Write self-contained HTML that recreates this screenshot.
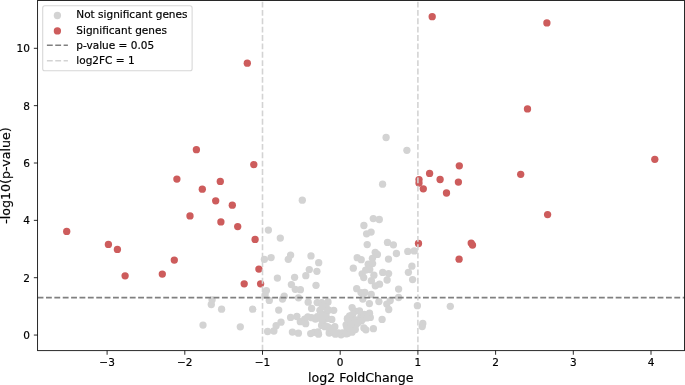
<!DOCTYPE html>
<html><head><meta charset="utf-8"><title>Volcano plot</title>
<style>
html,body{margin:0;padding:0;background:#fff;}
svg{display:block;}
text{font-family:"DejaVu Sans","Liberation Sans",sans-serif;fill:#000;stroke:#000;stroke-width:0.18px;}
</style></head><body>
<svg width="685" height="385" viewBox="0 0 685 385">
<rect width="685" height="385" fill="#fff"/>
<defs><clipPath id="ax"><rect x="37.6" y="0.5" width="646.9" height="350.15"/></clipPath></defs>
<g clip-path="url(#ax)">
<g fill="#d3d3d3">
<circle cx="302.3" cy="200.20" r="3.66"/>
<circle cx="386.1" cy="137.50" r="3.66"/>
<circle cx="406.9" cy="150.30" r="3.66"/>
<circle cx="382.6" cy="184.20" r="3.66"/>
<circle cx="268.4" cy="230.10" r="3.66"/>
<circle cx="280.3" cy="238.10" r="3.66"/>
<circle cx="264.4" cy="259.30" r="3.66"/>
<circle cx="271.1" cy="257.60" r="3.66"/>
<circle cx="290.6" cy="255.10" r="3.66"/>
<circle cx="288.3" cy="259.30" r="3.66"/>
<circle cx="311.0" cy="255.90" r="3.66"/>
<circle cx="318.7" cy="262.70" r="3.66"/>
<circle cx="309.3" cy="269.60" r="3.66"/>
<circle cx="316.9" cy="271.30" r="3.66"/>
<circle cx="305.8" cy="275.70" r="3.66"/>
<circle cx="294.6" cy="277.30" r="3.66"/>
<circle cx="277.4" cy="278.10" r="3.66"/>
<circle cx="291.4" cy="284.60" r="3.66"/>
<circle cx="316.0" cy="285.30" r="3.66"/>
<circle cx="373.3" cy="218.60" r="3.66"/>
<circle cx="379.3" cy="219.50" r="3.66"/>
<circle cx="363.9" cy="225.50" r="3.66"/>
<circle cx="371.1" cy="232.10" r="3.66"/>
<circle cx="366.6" cy="233.80" r="3.66"/>
<circle cx="367.2" cy="244.60" r="3.66"/>
<circle cx="387.5" cy="242.40" r="3.66"/>
<circle cx="393.4" cy="244.80" r="3.66"/>
<circle cx="396.4" cy="253.50" r="3.66"/>
<circle cx="407.8" cy="251.40" r="3.66"/>
<circle cx="414.2" cy="250.90" r="3.66"/>
<circle cx="388.5" cy="259.10" r="3.66"/>
<circle cx="375.2" cy="252.30" r="3.66"/>
<circle cx="377.4" cy="254.40" r="3.66"/>
<circle cx="372.4" cy="258.30" r="3.66"/>
<circle cx="357.2" cy="257.70" r="3.66"/>
<circle cx="361.2" cy="259.70" r="3.66"/>
<circle cx="368.2" cy="264.20" r="3.66"/>
<circle cx="372.6" cy="263.60" r="3.66"/>
<circle cx="353.3" cy="268.20" r="3.66"/>
<circle cx="411.9" cy="266.20" r="3.66"/>
<circle cx="408.4" cy="272.30" r="3.66"/>
<circle cx="412.6" cy="279.60" r="3.66"/>
<circle cx="382.7" cy="272.40" r="3.66"/>
<circle cx="388.6" cy="273.60" r="3.66"/>
<circle cx="387.1" cy="280.00" r="3.66"/>
<circle cx="365.7" cy="270.10" r="3.66"/>
<circle cx="369.7" cy="269.50" r="3.66"/>
<circle cx="362.1" cy="273.80" r="3.66"/>
<circle cx="363.7" cy="277.60" r="3.66"/>
<circle cx="373.9" cy="275.20" r="3.66"/>
<circle cx="371.4" cy="280.70" r="3.66"/>
<circle cx="379.5" cy="284.20" r="3.66"/>
<circle cx="375.3" cy="285.80" r="3.66"/>
<circle cx="398.6" cy="289.10" r="3.66"/>
<circle cx="398.6" cy="297.50" r="3.66"/>
<circle cx="356.7" cy="288.70" r="3.66"/>
<circle cx="361.0" cy="292.60" r="3.66"/>
<circle cx="364.8" cy="292.40" r="3.66"/>
<circle cx="371.2" cy="294.30" r="3.66"/>
<circle cx="362.8" cy="299.10" r="3.66"/>
<circle cx="378.9" cy="301.60" r="3.66"/>
<circle cx="369.4" cy="303.60" r="3.66"/>
<circle cx="390.2" cy="300.60" r="3.66"/>
<circle cx="386.8" cy="304.10" r="3.66"/>
<circle cx="388.7" cy="309.50" r="3.66"/>
<circle cx="417.4" cy="305.70" r="3.66"/>
<circle cx="352.1" cy="307.60" r="3.66"/>
<circle cx="359.5" cy="311.00" r="3.66"/>
<circle cx="369.5" cy="313.20" r="3.66"/>
<circle cx="422.8" cy="323.40" r="3.66"/>
<circle cx="422.2" cy="326.50" r="3.66"/>
<circle cx="450.3" cy="306.30" r="3.66"/>
<circle cx="382.1" cy="319.40" r="3.66"/>
<circle cx="373.4" cy="328.70" r="3.66"/>
<circle cx="365.9" cy="329.80" r="3.66"/>
<circle cx="363.9" cy="328.00" r="3.66"/>
<circle cx="370.3" cy="317.40" r="3.66"/>
<circle cx="349.6" cy="315.80" r="3.66"/>
<circle cx="347.5" cy="319.10" r="3.66"/>
<circle cx="353.8" cy="320.60" r="3.66"/>
<circle cx="347.5" cy="324.10" r="3.66"/>
<circle cx="355.5" cy="325.20" r="3.66"/>
<circle cx="363.8" cy="317.90" r="3.66"/>
<circle cx="360.9" cy="316.60" r="3.66"/>
<circle cx="353.8" cy="327.90" r="3.66"/>
<circle cx="346.9" cy="327.70" r="3.66"/>
<circle cx="342.5" cy="333.00" r="3.66"/>
<circle cx="347.5" cy="333.60" r="3.66"/>
<circle cx="346.1" cy="324.80" r="3.66"/>
<circle cx="347.4" cy="318.50" r="3.66"/>
<circle cx="352.0" cy="332.20" r="3.66"/>
<circle cx="278.7" cy="310.10" r="3.66"/>
<circle cx="281.0" cy="322.20" r="3.66"/>
<circle cx="276.1" cy="325.70" r="3.66"/>
<circle cx="273.9" cy="331.00" r="3.66"/>
<circle cx="267.6" cy="331.50" r="3.66"/>
<circle cx="290.6" cy="317.40" r="3.66"/>
<circle cx="296.9" cy="316.50" r="3.66"/>
<circle cx="300.3" cy="321.70" r="3.66"/>
<circle cx="304.7" cy="319.10" r="3.66"/>
<circle cx="305.7" cy="323.70" r="3.66"/>
<circle cx="307.8" cy="316.90" r="3.66"/>
<circle cx="292.4" cy="332.10" r="3.66"/>
<circle cx="298.4" cy="333.20" r="3.66"/>
<circle cx="310.7" cy="333.60" r="3.66"/>
<circle cx="314.1" cy="332.30" r="3.66"/>
<circle cx="317.9" cy="332.00" r="3.66"/>
<circle cx="318.5" cy="334.20" r="3.66"/>
<circle cx="311.6" cy="308.40" r="3.66"/>
<circle cx="308.2" cy="302.20" r="3.66"/>
<circle cx="317.2" cy="302.60" r="3.66"/>
<circle cx="321.7" cy="302.70" r="3.66"/>
<circle cx="328.0" cy="301.90" r="3.66"/>
<circle cx="326.1" cy="307.20" r="3.66"/>
<circle cx="319.9" cy="310.30" r="3.66"/>
<circle cx="333.7" cy="310.30" r="3.66"/>
<circle cx="326.1" cy="313.50" r="3.66"/>
<circle cx="317.3" cy="316.60" r="3.66"/>
<circle cx="315.4" cy="319.10" r="3.66"/>
<circle cx="322.3" cy="316.00" r="3.66"/>
<circle cx="327.3" cy="318.50" r="3.66"/>
<circle cx="331.8" cy="319.40" r="3.66"/>
<circle cx="323.0" cy="322.90" r="3.66"/>
<circle cx="321.6" cy="325.40" r="3.66"/>
<circle cx="324.8" cy="326.70" r="3.66"/>
<circle cx="329.2" cy="327.90" r="3.66"/>
<circle cx="334.8" cy="326.70" r="3.66"/>
<circle cx="327.4" cy="326.70" r="3.66"/>
<circle cx="329.2" cy="333.00" r="3.66"/>
<circle cx="335.4" cy="334.20" r="3.66"/>
<circle cx="341.1" cy="334.80" r="3.66"/>
<circle cx="346.1" cy="333.80" r="3.66"/>
<circle cx="322.3" cy="306.20" r="3.66"/>
<circle cx="338.3" cy="333.00" r="3.66"/>
<circle cx="354.8" cy="311.20" r="3.66"/>
<circle cx="311.6" cy="317.70" r="3.66"/>
<circle cx="321.5" cy="319.50" r="3.66"/>
<circle cx="332.3" cy="330.50" r="3.66"/>
<circle cx="328.7" cy="310.10" r="3.66"/>
<circle cx="355.3" cy="329.60" r="3.66"/>
<circle cx="350.6" cy="328.60" r="3.66"/>
<circle cx="352.6" cy="314.40" r="3.66"/>
<circle cx="364.3" cy="314.50" r="3.66"/>
<circle cx="366.9" cy="317.90" r="3.66"/>
<circle cx="361.5" cy="320.80" r="3.66"/>
<circle cx="356.0" cy="320.00" r="3.66"/>
<circle cx="357.8" cy="323.00" r="3.66"/>
<circle cx="351.0" cy="324.20" r="3.66"/>
<circle cx="266.4" cy="290.60" r="3.66"/>
<circle cx="265.1" cy="295.00" r="3.66"/>
<circle cx="269.3" cy="300.40" r="3.66"/>
<circle cx="284.2" cy="296.10" r="3.66"/>
<circle cx="282.5" cy="299.10" r="3.66"/>
<circle cx="298.5" cy="297.80" r="3.66"/>
<circle cx="295.3" cy="289.30" r="3.66"/>
<circle cx="300.4" cy="289.70" r="3.66"/>
<circle cx="212.1" cy="299.80" r="3.66"/>
<circle cx="211.3" cy="304.50" r="3.66"/>
<circle cx="221.6" cy="309.20" r="3.66"/>
<circle cx="203.0" cy="325.10" r="3.66"/>
<circle cx="252.7" cy="309.20" r="3.66"/>
<circle cx="240.3" cy="326.80" r="3.66"/>
</g>
<g fill="#cd5c5c">
<circle cx="247.3" cy="63.20" r="3.66"/>
<circle cx="432.2" cy="16.70" r="3.66"/>
<circle cx="546.9" cy="22.90" r="3.66"/>
<circle cx="196.4" cy="149.70" r="3.66"/>
<circle cx="253.8" cy="164.60" r="3.66"/>
<circle cx="176.9" cy="179.10" r="3.66"/>
<circle cx="220.3" cy="181.40" r="3.66"/>
<circle cx="202.3" cy="189.20" r="3.66"/>
<circle cx="215.7" cy="200.80" r="3.66"/>
<circle cx="232.3" cy="205.20" r="3.66"/>
<circle cx="190.0" cy="215.90" r="3.66"/>
<circle cx="66.7" cy="231.40" r="3.66"/>
<circle cx="108.4" cy="244.40" r="3.66"/>
<circle cx="117.4" cy="249.40" r="3.66"/>
<circle cx="125.1" cy="275.80" r="3.66"/>
<circle cx="162.3" cy="274.10" r="3.66"/>
<circle cx="174.3" cy="260.10" r="3.66"/>
<circle cx="220.9" cy="221.90" r="3.66"/>
<circle cx="237.7" cy="226.60" r="3.66"/>
<circle cx="255.1" cy="239.40" r="3.66"/>
<circle cx="258.9" cy="269.10" r="3.66"/>
<circle cx="244.2" cy="283.80" r="3.66"/>
<circle cx="260.6" cy="283.80" r="3.66"/>
<circle cx="429.6" cy="173.40" r="3.66"/>
<circle cx="419.0" cy="179.60" r="3.66"/>
<circle cx="419.0" cy="183.10" r="3.66"/>
<circle cx="440.1" cy="179.50" r="3.66"/>
<circle cx="459.3" cy="165.80" r="3.66"/>
<circle cx="458.4" cy="182.10" r="3.66"/>
<circle cx="423.3" cy="188.80" r="3.66"/>
<circle cx="446.5" cy="193.00" r="3.66"/>
<circle cx="527.5" cy="108.90" r="3.66"/>
<circle cx="654.8" cy="159.30" r="3.66"/>
<circle cx="520.7" cy="174.30" r="3.66"/>
<circle cx="547.6" cy="214.60" r="3.66"/>
<circle cx="471.2" cy="243.10" r="3.66"/>
<circle cx="472.5" cy="245.10" r="3.66"/>
<circle cx="418.5" cy="243.50" r="3.66"/>
<circle cx="459.1" cy="259.20" r="3.66"/>
</g>
<path d="M37.6 297.64H684.5" stroke="#808080" stroke-width="1.58" stroke-dasharray="5.85 2.528" fill="none"/>
<path d="M262.50 350.65V0.5" stroke="#d3d3d3" stroke-width="1.58" stroke-dasharray="5.845 2.525" fill="none"/>
<path d="M417.90 350.65V0.5" stroke="#d3d3d3" stroke-width="1.58" stroke-dasharray="5.845 2.525" fill="none"/>
</g>
<g stroke="#000" stroke-width="0.84" fill="none"><path d="M107.10 350.65v4.10"/><path d="M184.80 350.65v4.10"/><path d="M262.50 350.65v4.10"/><path d="M340.20 350.65v4.10"/><path d="M417.90 350.65v4.10"/><path d="M495.60 350.65v4.10"/><path d="M573.30 350.65v4.10"/><path d="M651.00 350.65v4.10"/><path d="M37.6 335.05h-3.75"/><path d="M37.6 277.70h-3.75"/><path d="M37.6 220.35h-3.75"/><path d="M37.6 163.00h-3.75"/><path d="M37.6 105.65h-3.75"/><path d="M37.6 48.30h-3.75"/></g>
<rect x="37.6" y="0.5" width="646.9" height="350.15" fill="none" stroke="#000" stroke-width="0.84"/>
<g font-size="10.52px"><text x="107.10" y="366.13" text-anchor="middle">−3</text><text x="184.80" y="366.13" text-anchor="middle">−2</text><text x="262.50" y="366.13" text-anchor="middle">−1</text><text x="340.20" y="366.13" text-anchor="middle">0</text><text x="417.90" y="366.13" text-anchor="middle">1</text><text x="495.60" y="366.13" text-anchor="middle">2</text><text x="573.30" y="366.13" text-anchor="middle">3</text><text x="651.00" y="366.13" text-anchor="middle">4</text><text x="29.94" y="338.98" text-anchor="end">0</text><text x="29.94" y="281.63" text-anchor="end">2</text><text x="29.94" y="224.28" text-anchor="end">4</text><text x="29.94" y="166.93" text-anchor="end">6</text><text x="29.94" y="109.58" text-anchor="end">8</text><text x="29.94" y="52.23" text-anchor="end">10</text></g>
<text x="360.8" y="382.0" font-size="12.62px" text-anchor="middle">log2 FoldChange</text>
<text transform="translate(9.8 175.57) rotate(-90)" font-size="12.62px" text-anchor="middle">-log10(p-value)</text>
<rect x="42.7" y="5.8" width="149.40" height="64.95" rx="2.1" ry="2.1" fill="#fff" fill-opacity="0.8" stroke="#ccc" stroke-opacity="0.8" stroke-width="1.05"/>
<circle cx="57.4" cy="15.50" r="3.66" fill="#d3d3d3"/>
<circle cx="57.4" cy="30.95" r="3.66" fill="#cd5c5c"/>
<path d="M46.9 45.30H67.9" stroke="#808080" stroke-width="1.58" stroke-dasharray="5.84 2.52" fill="none"/>
<path d="M46.9 60.75H67.9" stroke="#d3d3d3" stroke-width="1.58" stroke-dasharray="5.84 2.52" fill="none"/>
<g font-size="10.52px">
<text x="76.3" y="18.20">Not significant genes</text>
<text x="76.3" y="33.65">Significant genes</text>
<text x="76.3" y="49.10">p-value = 0.05</text>
<text x="76.3" y="64.40">log2FC = 1</text>
</g>
</svg>
</body></html>
